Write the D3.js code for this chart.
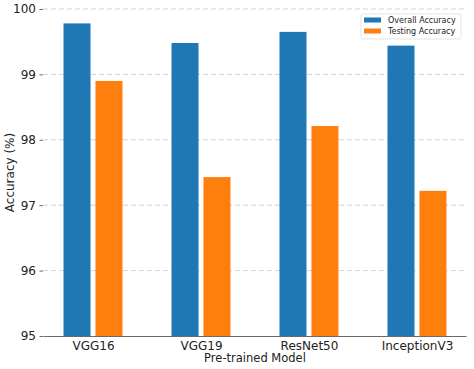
<!DOCTYPE html>
<html>
<head>
<meta charset="utf-8">
<script src="https://cdn.jsdelivr.net/npm/d3@7"></script>
<style>
    body { margin: 0; background: #fff; }
    text { font-family: "DejaVu Sans", sans-serif; fill: #222; }
</style>
</head>
<body>
<div id="chart"></div>
<script>
const models = ["VGG16", "VGG19", "ResNet50", "InceptionV3"];
const overallAcc = [99.78, 99.48, 99.65, 99.44];
const testingAcc = [98.90, 97.43, 98.21, 97.22];
const yTicks = [95, 96, 97, 98, 99, 100];
const seriesNames = ["Overall Accuracy", "Testing Accuracy"];
const colors = ["#1f77b4", "#ff7f0e"];

const width = 474, height = 369;
const margin = { top: 9, right: 8, bottom: 33, left: 43 };

const svg = d3.select("#chart").append("svg")
    .attr("width", width)
    .attr("height", height);

// x is a linear scale over the category index (like matplotlib)
const x = d3.scaleLinear()
    .domain([-0.463, 3.454])
    .range([margin.left, width - margin.right]);

const y = d3.scaleLinear()
    .domain([95, 100])
    .range([height - margin.bottom, margin.top]);

const barW = 0.25;
const offset = 0.148;

// grid lines
svg.append("g")
    .selectAll("line")
    .data(yTicks.slice(1))
    .enter().append("line")
    .attr("x1", margin.left)
    .attr("x2", width - margin.right)
    .attr("y1", d => y(d))
    .attr("y2", d => y(d))
    .attr("stroke", "#c8c8c8")
    .attr("stroke-width", 0.8)
    .attr("stroke-dasharray", "5,3");

// bars
const series = [overallAcc, testingAcc];
series.forEach((vals, s) => {
    svg.append("g")
        .selectAll("rect")
        .data(vals)
        .enter().append("rect")
        .attr("x", (d, i) => x(i + (s === 0 ? -offset : offset) - barW / 2))
        .attr("width", x(barW) - x(0))
        .attr("y", d => y(d))
        .attr("height", d => y(95) - y(d))
        .attr("fill", colors[s]);
});

// y axis
const yAxis = svg.append("g")
    .attr("transform", `translate(${margin.left},0)`)
    .call(d3.axisLeft(y).tickValues(yTicks).tickSize(3.5).tickPadding(3.5).tickFormat(d3.format("d")));
yAxis.select(".domain").remove();
yAxis.selectAll(".tick line").attr("stroke", "#444").attr("stroke-width", 0.8);
yAxis.selectAll(".tick text").style("font-size", "12px").attr("fill", "#222");

// x axis
const xAxis = svg.append("g")
    .attr("transform", `translate(0,${height - margin.bottom})`)
    .call(d3.axisBottom(x).tickValues(d3.range(models.length)).tickSize(0).tickPadding(5)
        .tickFormat(i => models[i]));
xAxis.select(".domain").attr("stroke", "#444").attr("stroke-width", 0.8);
xAxis.selectAll(".tick text").style("font-size", "12px").attr("fill", "#222");

// axis labels
svg.append("text")
    .attr("text-anchor", "middle")
    .attr("x", 255)
    .attr("y", height - 7)
    .style("font-size", "11.5px")
    .text("Pre-trained Model");

svg.append("text")
    .attr("text-anchor", "middle")
    .attr("transform", `translate(14,${(margin.top + height - margin.bottom) / 2}) rotate(-90)`)
    .style("font-size", "12px")
    .text("Accuracy (%)");

// legend
const legend = svg.append("g").attr("transform", "translate(361,14)");
legend.append("rect")
    .attr("width", 100)
    .attr("height", 25)
    .attr("rx", 2)
    .attr("fill", "#fff")
    .attr("fill-opacity", 0.8)
    .attr("stroke", "#ddd")
    .attr("stroke-width", 0.8);
seriesNames.forEach((name, i) => {
    legend.append("rect")
        .attr("x", 3)
        .attr("y", 3.5 + i * 11)
        .attr("width", 17)
        .attr("height", 5)
        .attr("fill", colors[i]);
    legend.append("text")
        .attr("x", 27)
        .attr("y", 9 + i * 11)
        .style("font-size", "8px")
        .text(name);
});
</script>
</body>
</html>
